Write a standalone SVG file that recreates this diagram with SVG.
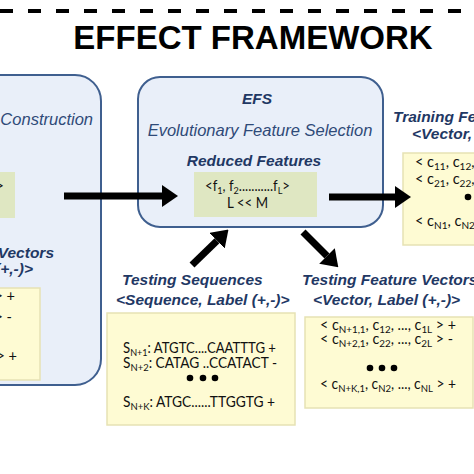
<svg xmlns="http://www.w3.org/2000/svg" width="474" height="474" viewBox="0 0 474 474">
<defs>
<style>
.bt{font-family:"Liberation Sans",Arial,sans-serif;font-weight:bold;font-style:italic;fill:#1f3864;font-size:15.5px}
.it{font-family:"Liberation Sans",Arial,sans-serif;font-style:italic;fill:#2f4a78;font-size:16.5px}
.tx{font-family:Lato,"Liberation Sans",Arial,sans-serif;fill:#111;font-size:14.5px}
.sm{font-size:10px}
.blue{fill:#e9eff9;stroke:#3f5f8f;stroke-width:2}
.yel{fill:#fefbd3;stroke:#e6e2b4;stroke-width:1.5}
.grn{fill:#dfe7c2;stroke:none}
.arr{stroke:#000;stroke-width:7;fill:none}
</style>
<marker id="ah" markerUnits="userSpaceOnUse" markerWidth="16" markerHeight="22" refX="0" refY="11" orient="auto">
<path d="M0,0 L16,11 L0,22 z" fill="#000"/>
</marker>
</defs>
<rect width="474" height="474" fill="#fff"/>
<line x1="0" y1="11" x2="474" y2="11" stroke="#000" stroke-width="4" stroke-dasharray="13,15"/>
<text x="253" y="49" text-anchor="middle" font-family="Liberation Sans,Arial,sans-serif" font-weight="bold" font-size="33" fill="#000">EFFECT FRAMEWORK</text>

<g id="construction">
<rect class="blue" x="-40" y="75" width="141" height="310" rx="26"/>
<text class="it" x="93" y="125" text-anchor="end">Feature Construction</text>
<rect class="grn" x="-40" y="172" width="55" height="46"/>
<text class="tx" x="4" y="191" text-anchor="end">f<tspan class="sm" dy="3">M</tspan><tspan dy="-3">&gt;</tspan></text>
<text class="bt" x="54" y="258" text-anchor="end">Training Feature Vectors</text>
<text class="bt" x="33" y="274" text-anchor="end">&lt;Vector, Label (+,-)&gt;</text>
<rect class="yel" x="-40" y="288" width="80" height="92"/>
<text class="tx" x="15" y="301" text-anchor="end">c<tspan class="sm" dy="3">1M</tspan><tspan dy="-3"> &gt; +</tspan></text>
<text class="tx" x="12" y="322" text-anchor="end">c<tspan class="sm" dy="3">2M</tspan><tspan dy="-3"> &gt; -</tspan></text>
<text class="tx" x="17" y="361" text-anchor="end">c<tspan class="sm" dy="3">NM</tspan><tspan dy="-3"> &gt; +</tspan></text>
</g>

<g id="efs">
<rect class="blue" x="138" y="77" width="245" height="150" rx="22"/>
<text class="bt" x="257" y="104" text-anchor="middle" font-size="20.5">EFS</text>
<text class="it" x="260" y="136" text-anchor="middle">Evolutionary Feature Selection</text>
<text class="bt" x="254" y="166" text-anchor="middle">Reduced Features</text>
<rect class="grn" x="194" y="172" width="123" height="45"/>
<text class="tx" x="205" y="191" textLength="85" lengthAdjust="spacingAndGlyphs">&lt;f<tspan class="sm" dy="3">1</tspan><tspan dy="-3">, f</tspan><tspan class="sm" dy="3">2</tspan><tspan dy="-3">...........f</tspan><tspan class="sm" dy="3">L</tspan><tspan dy="-3">&gt;</tspan></text>
<text class="tx" x="227" y="208" textLength="41" lengthAdjust="spacingAndGlyphs">L &lt;&lt; M</text>
</g>

<g id="training">
<text class="bt" x="393" y="122">Training  Feature Vectors</text>
<text class="bt" x="412" y="139">&lt;Vector, Label (+,-)&gt;</text>
<rect class="yel" x="403" y="153" width="80" height="92"/>
<text class="tx" x="415" y="167">&lt; c<tspan class="sm" dy="3">11</tspan><tspan dy="-3">, c</tspan><tspan class="sm" dy="3">12</tspan><tspan dy="-3">, ..., c</tspan><tspan class="sm" dy="3">1M</tspan><tspan dy="-3"> &gt; +</tspan></text>
<text class="tx" x="415" y="184">&lt; c<tspan class="sm" dy="3">21</tspan><tspan dy="-3">, c</tspan><tspan class="sm" dy="3">22</tspan><tspan dy="-3">, ..., c</tspan><tspan class="sm" dy="3">2M</tspan><tspan dy="-3"> &gt; -</tspan></text>
<circle cx="468" cy="197" r="3.3" fill="#000"/>
<text class="tx" x="415" y="226">&lt; c<tspan class="sm" dy="3">N1</tspan><tspan dy="-3">, c</tspan><tspan class="sm" dy="3">N2</tspan><tspan dy="-3">, ..., c</tspan><tspan class="sm" dy="3">NM</tspan><tspan dy="-3"> &gt; +</tspan></text>
</g>

<g id="testing-sequences">
<text class="bt" x="122" y="285">Testing  Sequences</text>
<text class="bt" x="116" y="305">&lt;Sequence, Label (+,-)&gt;</text>
<rect class="yel" x="107" y="313" width="188" height="112"/>
<text class="tx" x="123" y="353" textLength="153" lengthAdjust="spacingAndGlyphs">S<tspan class="sm" dy="3">N+1</tspan><tspan dy="-3">: ATGTC....CAATTTG +</tspan></text>
<text class="tx" x="123" y="368" textLength="154" lengthAdjust="spacingAndGlyphs">S<tspan class="sm" dy="3">N+2</tspan><tspan dy="-3">: CATAG ..CCATACT  -</tspan></text>
<circle cx="190" cy="378" r="3.3" fill="#000"/>
<circle cx="203" cy="378" r="3.3" fill="#000"/>
<circle cx="215" cy="378" r="3.3" fill="#000"/>
<text class="tx" x="123" y="407" textLength="152" lengthAdjust="spacingAndGlyphs">S<tspan class="sm" dy="3">N+K</tspan><tspan dy="-3">: ATGC......TTGGTG  +</tspan></text>
</g>

<g id="testing-vectors">
<text class="bt" x="302" y="285">Testing Feature Vectors</text>
<text class="bt" x="313" y="305">&lt;Vector, Label (+,-)&gt;</text>
<rect class="yel" x="305" y="317" width="168" height="91"/>
<text class="tx" x="320" y="330" textLength="136" lengthAdjust="spacingAndGlyphs">&lt; c<tspan class="sm" dy="3">N+1,1</tspan><tspan dy="-3">, c</tspan><tspan class="sm" dy="3">12</tspan><tspan dy="-3">, ..., c</tspan><tspan class="sm" dy="3">1L</tspan><tspan dy="-3"> &gt; +</tspan></text>
<text class="tx" x="320" y="344" textLength="133" lengthAdjust="spacingAndGlyphs">&lt; c<tspan class="sm" dy="3">N+2,1</tspan><tspan dy="-3">, c</tspan><tspan class="sm" dy="3">22</tspan><tspan dy="-3">, ..., c</tspan><tspan class="sm" dy="3">2L</tspan><tspan dy="-3"> &gt; -</tspan></text>
<circle cx="370" cy="368" r="3.3" fill="#000"/>
<circle cx="382" cy="368" r="3.3" fill="#000"/>
<circle cx="394" cy="368" r="3.3" fill="#000"/>
<text class="tx" x="320" y="389" textLength="136" lengthAdjust="spacingAndGlyphs">&lt; c<tspan class="sm" dy="3">N+K,1</tspan><tspan dy="-3">, c</tspan><tspan class="sm" dy="3">N2</tspan><tspan dy="-3">, ..., c</tspan><tspan class="sm" dy="3">NL</tspan><tspan dy="-3"> &gt; +</tspan></text>
</g>

<g id="connectors">
<line class="arr" x1="64" y1="196" x2="162" y2="196" marker-end="url(#ah)"/>
<line class="arr" x1="329" y1="197" x2="395" y2="197" marker-end="url(#ah)"/>
<line class="arr" x1="192" y1="265" x2="217" y2="240.7" marker-end="url(#ah)"/>
<line class="arr" x1="303" y1="232" x2="327" y2="256" marker-end="url(#ah)"/>
</g>
</svg>
